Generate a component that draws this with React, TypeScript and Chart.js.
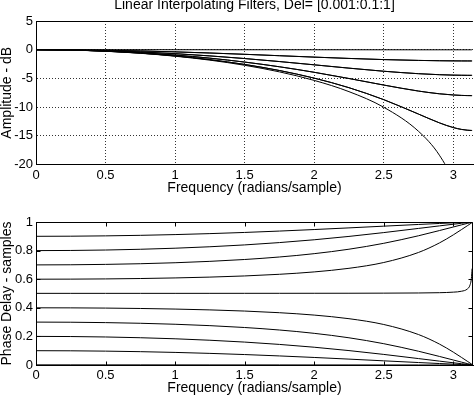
import React, { useEffect, useRef } from 'react';
import { Chart, registerables } from 'chart.js';

Chart.register(...registerables);

// ---------- data ----------
const titleText = 'Linear Interpolating Filters, Del= [0.001:0.1:1]';
const xLabel = 'Frequency (radians/sample)';
const ampLabel = 'Amplitude - dB';
const delayLabel = 'Phase Delay - samples';

const delays = ['0.001', '0.101', '0.201', '0.301', '0.401', '0.501', '0.601', '0.701', '0.801', '0.901'];

const freqTicks = [0, 0.5, 1, 1.5, 2, 2.5, 3];
const ampTicks = [-20, -15, -10, -5, 0, 5];
const delayTicks = [0, 0.2, 0.4, 0.6, 0.8, 1];

const freq = [0, 0.25, 0.5, 0.75, 1, 1.25, 1.5, 1.75, 2, 2.25, 2.5, 2.75, 2.9, 3.0, 3.06, 3.1, 3.12, 3.13, 3.135];

// amplitude (dB)
const amp001 = [0, 0, 0, -0.001, -0.004, -0.006, -0.008, -0.01, -0.012, -0.014, -0.016, -0.017, -0.017, -0.017, -0.017, -0.017, -0.017, -0.017, -0.017];
const amp101 = [0, -0.025, -0.098, -0.217, -0.379, -0.577, -0.803, -1.046, -1.291, -1.522, -1.721, -1.867, -1.924, -1.948, -1.956, -1.959, -1.96, -1.96, -1.96];
const amp201 = [0, -0.044, -0.174, -0.391, -0.694, -1.079, -1.54, -2.065, -2.635, -3.215, -3.752, -4.18, -4.354, -4.427, -4.453, -4.463, -4.466, -4.466, -4.466];
const amp301 = [0, -0.057, -0.23, -0.52, -0.934, -1.476, -2.154, -2.974, -3.935, -5.019, -6.16, -7.207, -7.68, -7.889, -7.964, -7.993, -8.0, -8.003, -8.003];
const amp401 = [0, -0.065, -0.263, -0.599, -1.084, -1.732, -2.568, -3.626, -4.953, -6.619, -8.705, -11.216, -12.745, -13.565, -13.894, -14.021, -14.055, -14.066, -14.067];
const amp501 = [0, -0.068, -0.274, -0.626, -1.134, -1.82, -2.714, -3.863, -5.347, -7.307, -10.025, -14.219, -18.38, -23.006, -27.8, -33.56, -39.2, -44.6, -48.2];

// phase delay (samples)
const pd001 = [0.001, 0.001, 0.00096, 0.00091, 0.00084, 0.00076, 0.00066, 0.00056, 0.00045, 0.00035, 0.00024, 0.00014, 0.00008, 0.00005, 0.00003, 0.00001, 0.00001, 0, 0];
const pd101 = [0.1, 0.09925, 0.097, 0.09324, 0.08797, 0.08122, 0.07302, 0.06348, 0.05277, 0.04119, 0.02915, 0.01717, 0.01027, 0.00587, 0.00332, 0.00168, 0.00087, 0.00046, 0.00026];
const pd201 = [0.2, 0.199, 0.19595, 0.19077, 0.18326, 0.17317, 0.1602, 0.144, 0.12424, 0.10079, 0.07398, 0.04489, 0.02718, 0.01562, 0.00885, 0.00447, 0.00231, 0.00124, 0.0007];
const pd301 = [0.3, 0.29912, 0.29643, 0.29178, 0.28486, 0.27523, 0.2622, 0.24475, 0.22143, 0.19026, 0.14895, 0.09619, 0.05994, 0.03489, 0.01987, 0.01005, 0.00519, 0.00278, 0.00158];
const pd401 = [0.4, 0.3995, 0.39795, 0.39525, 0.39117, 0.38536, 0.3772, 0.36568, 0.34902, 0.32384, 0.28327, 0.21288, 0.14645, 0.08998, 0.05237, 0.02672, 0.01383, 0.00741, 0.00421];
const pd501 = [0.501, 0.501, 0.50102, 0.50105, 0.50109, 0.50117, 0.50125, 0.50137, 0.50156, 0.50185, 0.50241, 0.50366, 0.50568, 0.5094, 0.51605, 0.53094, 0.5587, 0.606, 0.6738];
const pd601 = [0.6, 0.6005, 0.60205, 0.60475, 0.60883, 0.61464, 0.6228, 0.63432, 0.65098, 0.67616, 0.71673, 0.78712, 0.85355, 0.91002, 0.94763, 0.97328, 0.98617, 0.99259, 0.99579];
const pd701 = [0.7, 0.70088, 0.70357, 0.70822, 0.71514, 0.72477, 0.7378, 0.75525, 0.77857, 0.80974, 0.85105, 0.90381, 0.94006, 0.96511, 0.98013, 0.98995, 0.99481, 0.99722, 0.99842];
const pd801 = [0.8, 0.801, 0.80405, 0.80923, 0.81674, 0.82683, 0.8398, 0.856, 0.87576, 0.89921, 0.92602, 0.95511, 0.97282, 0.98438, 0.99115, 0.99553, 0.99769, 0.99876, 0.9993];
const pd901 = [0.9, 0.90075, 0.903, 0.90676, 0.91203, 0.91878, 0.92698, 0.93652, 0.94723, 0.95881, 0.97085, 0.98283, 0.98973, 0.99413, 0.99668, 0.99832, 0.99913, 0.99954, 0.99974];

const ampSeries = [amp001, amp101, amp201, amp301, amp401, amp501, amp401, amp301, amp201, amp101];
const delaySeries = [pd001, pd101, pd201, pd301, pd401, pd501, pd601, pd701, pd801, pd901];

// ---------- helpers ----------
const FONT = "'Liberation Sans', Arial, Helvetica, sans-serif";
Chart.defaults.font.family = FONT;
Chart.defaults.color = '#000';

const fmt = (v: number) => String(Math.round(v * 1000) / 1000);

const makeDatasets = (series: number[][]) =>
  series.map((arr, i) => ({
    label: 'Del=' + delays[i],
    data: freq.map((x, j) => ({ x, y: arr[j] })),
    borderColor: '#000',
    borderWidth: 1,
    pointRadius: 0,
    fill: false,
    cubicInterpolationMode: 'monotone' as const,
  }));

const framePlugin = (drawRight: boolean, insideTicks: boolean) => ({
  id: 'frameTicks',
  afterDraw(chart: any) {
    const { ctx, chartArea: a, scales } = chart;
    ctx.save();
    ctx.strokeStyle = '#000';
    ctx.lineWidth = 1;
    ctx.setLineDash([]);
    const top = Math.floor(a.top) + 0.5;
    const bottom = Math.floor(a.bottom) + 0.5;
    const left = Math.floor(a.left) + 0.5;
    const right = Math.ceil(a.right) - 0.5;
    ctx.beginPath();
    ctx.moveTo(left, top);
    ctx.lineTo(right, top);
    if (drawRight) {
      ctx.moveTo(right, top);
      ctx.lineTo(right, bottom);
    }
    ctx.stroke();
    if (insideTicks) {
      const L = 4;
      ctx.beginPath();
      scales.x.ticks.forEach((t: any) => {
        const px = Math.round(scales.x.getPixelForValue(t.value)) + 0.5;
        ctx.moveTo(px, bottom);
        ctx.lineTo(px, bottom - L);
        ctx.moveTo(px, top);
        ctx.lineTo(px, top + L);
      });
      scales.y.ticks.forEach((t: any) => {
        const py = Math.round(scales.y.getPixelForValue(t.value)) + 0.5;
        ctx.moveTo(left, py);
        ctx.lineTo(left + L, py);
        ctx.moveTo(right, py);
        ctx.lineTo(right - L, py);
      });
      ctx.stroke();
    }
    ctx.restore();
  },
});

function xScale(height: number, titleBottom: number, grid: boolean) {
  return {
    type: 'linear' as const,
    min: 0,
    max: Math.PI,
    afterBuildTicks: (s: any) => {
      s.ticks = freqTicks.map((v) => ({ value: v }));
    },
    afterFit: (s: any) => {
      s.height = height;
    },
    grid: { display: grid, drawOnChartArea: grid, color: '#333', lineWidth: 1, drawTicks: false, tickLength: 0 },
    border: { display: true, color: '#000', width: 1, dash: [1, 2] },
    ticks: {
      color: '#000',
      padding: 3,
      autoSkip: false,
      maxRotation: 0,
      font: { size: 13, family: FONT },
      callback: (v: any) => fmt(Number(v)),
    },
    title: {
      display: true,
      text: xLabel,
      color: '#000',
      font: { size: 14, lineHeight: 1, family: FONT },
      padding: { top: 0, bottom: titleBottom },
    },
  };
}

function yScale(min: number, max: number, tickVals: number[], label: string, grid: boolean) {
  return {
    type: 'linear' as const,
    min,
    max,
    afterBuildTicks: (s: any) => {
      s.ticks = tickVals.map((v) => ({ value: v }));
    },
    afterFit: (s: any) => {
      s.width = 36;
    },
    grid: { display: grid, drawOnChartArea: grid, color: '#333', lineWidth: 1, drawTicks: false, tickLength: 0 },
    border: { display: true, color: '#000', width: 1, dash: [1, 2] },
    ticks: {
      color: '#000',
      padding: 3,
      autoSkip: false,
      font: { size: 13, family: FONT },
      callback: (v: any) => fmt(Number(v)),
    },
    title: {
      display: true,
      text: label,
      color: '#000',
      font: { size: 14, lineHeight: 1, family: FONT },
      padding: { top: 0, bottom: 0 },
    },
  };
}

export default function App() {
  const topRef = useRef<HTMLCanvasElement | null>(null);
  const botRef = useRef<HTMLCanvasElement | null>(null);

  useEffect(() => {
    if (!topRef.current || !botRef.current) return;
    const top = new Chart(topRef.current, {
      type: 'line',
      data: { datasets: makeDatasets(ampSeries) as any },
      options: {
        animation: false,
        responsive: false,
        devicePixelRatio: 1,
        events: [],
        layout: { padding: { left: 0, right: 1, top: 0, bottom: 0 } },
        plugins: {
          legend: { display: false },
          tooltip: { enabled: false },
          title: {
            display: true,
            text: titleText,
            fullSize: false,
            color: '#000',
            font: { size: 14, lineHeight: 0.7, family: FONT, weight: 'normal' },
            padding: { top: 0, bottom: 11.2 },
          },
        },
        scales: {
          x: xScale(35.5, 4.6, true) as any,
          y: yScale(-20, 5, ampTicks, ampLabel, true) as any,
        },
      },
      plugins: [framePlugin(false, false)],
    });
    const bot = new Chart(botRef.current, {
      type: 'line',
      data: { datasets: makeDatasets(delaySeries) as any },
      options: {
        animation: false,
        responsive: false,
        devicePixelRatio: 1,
        events: [],
        layout: { padding: { left: 0, right: 1, top: 22, bottom: 0 } },
        plugins: {
          legend: { display: false },
          tooltip: { enabled: false },
          title: { display: false },
        },
        scales: {
          x: xScale(33, 2.6, false) as any,
          y: yScale(0, 1, delayTicks, delayLabel, false) as any,
        },
      },
      plugins: [framePlugin(true, true)],
    });
    return () => {
      top.destroy();
      bot.destroy();
    };
  }, []);

  return (
    <div style={{ position: 'absolute', left: 0, top: 0, width: 474, height: 398, background: '#fff' }}>
      <canvas ref={topRef} width={474} height={200} style={{ display: 'block', width: 474, height: 200 }} />
      <canvas ref={botRef} width={474} height={198} style={{ display: 'block', width: 474, height: 198 }} />
    </div>
  );
}
